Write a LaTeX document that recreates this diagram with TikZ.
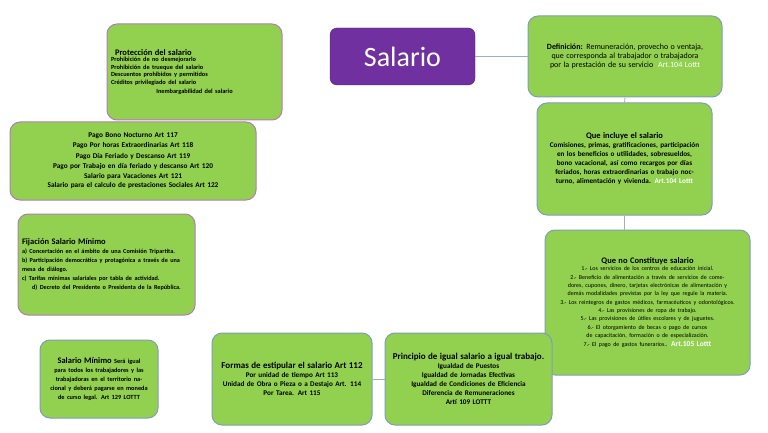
\documentclass[tikz,border=0pt]{standalone}
\usepackage{fontspec}
\setmainfont{Carlito}
\definecolor{gr}{HTML}{92D050}
\definecolor{pk}{HTML}{B57BB5}
\definecolor{bl}{HTML}{7F9DB9}
\definecolor{pu}{HTML}{7030A0}
\begin{document}
\begin{tikzpicture}[x=1pt,y=-1pt,
 gbox/.style={draw=#1,line width=1pt,fill=gr,rounded corners=10pt,inner sep=2pt,align=center,font=\fontsize{7.2}{9}\selectfont\bfseries},
 gbox/.default=bl,
 conn/.style={draw=bl!80,line width=0.8pt}]
\useasboundingbox (0,0) rectangle (768,433);
\newcommand\bx[6]{\node[gbox=#6,minimum width=#3-#1,minimum height=#4-#2,text width=#3-#1-8] (#5) at ({(#1+#3)/2},{(#2+#4)/2})}
\node[draw=pu!70!black,fill=pu,rounded corners=7pt,minimum width=145,minimum height=57,text=white,font=\fontsize{28}{30}\selectfont] (sal) at (402.5,56.5) {Salario};
\bx{528}{16}{722}{97}{def}{bl}{\fontsize{8}{11}\selectfont Definición: \mdseries Remuneración, provecho o ventaja,\ \ que corresponda al trabajador o trabajadora por la prestación de su servicio \ \textcolor{white}{Art.104 Lottt}};
\bx{537}{103}{712}{215}{inc}{bl}{{\fontsize{8.5}{10}\selectfont Que incluye el salario}\\ Comisiones, primas, gratificaciones, participación en los beneficios o utilidades, sobresueldos, bono vacacional, así como recargos por días feriados, horas extraordinarias o trabajo nocturno, alimentación y vivienda. \textcolor{white}{Art.104 Lottt}};
\bx{545}{230}{750}{375}{no}{bl}{{\fontsize{8.5}{10}\selectfont Que no Constituye salario}\\[-1pt] \fontsize{6}{8.3}\selectfont\mdseries 1.- Los servicios de los centros de educación inicial.\\ 2.- Beneficio de alimentación a través de servicios de comedores, cupones, dinero, tarjetas electrónicas de alimentación y demás modalidades previstas por la ley que regule la materia.\\ 3.- Los reintegros de gastos médicos, farmacéuticos y odontológicos.\\ 4.- Las provisiones de ropa de trabajo.\\ 5.- Las provisiones de útiles escolares y de juguetes.\\ 6.- El otorgamiento de becas o pago de cursos de capacitación, formación o de especialización.\\ 7.- El pago de gastos funerarios.. \textcolor{white}{\bfseries\fontsize{7.5}{9}\selectfont Art.105 Lottt}};
\bx{385}{333}{552}{425}{pri}{bl}{{\fontsize{9}{11}\selectfont Principio de igual salario a igual trabajo.}\\ Igualdad de Puestos\\ Igualdad de Jornadas Efectivas\\ Igualdad de Condiciones de Eficiencia\\ Diferencia de Remuneraciones\\ Artí 109 LOTTT};
\bx{212}{333}{372}{425}{for}{bl}{{\fontsize{9}{12}\selectfont Formas de estipular el salario Art 112}\\ Por unidad de tiempo Art 113\\ Unidad de Obra o Pieza o a Destajo Art. 114\\ Por Tarea. Art 115};
\bx{40}{340}{158}{418}{min}{bl}{{\fontsize{8.5}{10}\selectfont Salario Mínimo} \fontsize{6.3}{9.5}\selectfont Será igual para todos los trabajadores y las trabajadoras en el territorio nacional y deberá pagarse en moneda de curso legal. Art 129 LOTTT};
\bx{107}{24}{282}{120}{pro}{pk}{\raggedright\hspace*{4pt}{\fontsize{8.5}{11}\selectfont Protección del salario}\\[-1pt] \fontsize{6.3}{7.5}\selectfont Prohibición de no desmejorarlo\\ Prohibición de trueque del salario\\ Descuentos prohibidos y permitidos\\ Créditos privilegiado del salario\\ Inembargabilidad del salario};
\bx{10}{122}{256}{200}{pag}{pk}{\fontsize{7.3}{10.3}\selectfont Pago Bono Nocturno Art 117\\ Pago Por horas Extraordinarias Art 118\\ Pago Día Feriado y Descanso Art 119\\ Pago por Trabajo en día feriado y descanso Art 120\\ Salario para Vacaciones Art 121\\ Salario para el calculo de prestaciones Sociales Art 122};
\bx{18}{214}{195}{315}{fij}{pk}{\raggedright{\fontsize{8.5}{10}\selectfont Fijación Salario Mínimo}\\ \fontsize{6.2}{9}\selectfont a) Concertación en el ámbito de una Comisión Tripartita.\\ b) Participación democrática y protagónica a través de una mesa de diálogo.\\ c) Tarifas mínimas salariales por tabla de actividad.\\ d) Decreto del Presidente o Presidenta de la República.};
\draw[conn] (sal.east) -- (sal.east-|def.west);
\draw[conn] (def.south) -- (inc.north);
\draw[conn] (inc.south) -- (inc.south|-no.north);
\draw[conn] (for.east) -- (pri.west);
\end{tikzpicture}
\end{document}
